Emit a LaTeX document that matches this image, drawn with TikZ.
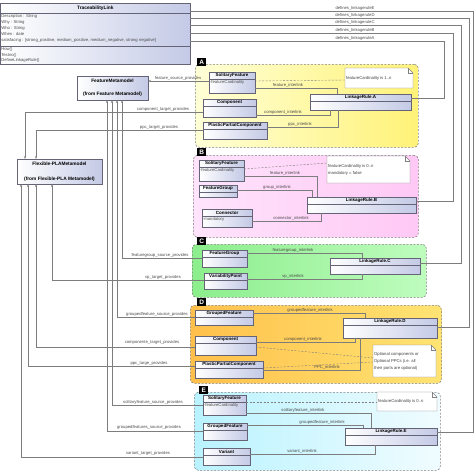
\documentclass[tikz,border=0pt]{standalone}
\usepackage{fontspec}
\setmainfont{Liberation Sans}
\usetikzlibrary{arrows.meta}

\definecolor{clsedge}{RGB}{100,100,118}
\definecolor{clsfill}{RGB}{196,202,230}
\definecolor{wirecol}{RGB}{125,125,125}

\tikzset{
  cls/.style={draw=clsedge, line width=0.5pt, left color=white, right color=clsfill, anchor=north west, inner sep=0pt, outer sep=0pt},
  clsrule/.style={draw=clsedge, line width=0.4pt},
  clstitle/.style={font=\fontsize{4.5}{5}\selectfont\bfseries, inner sep=0pt},
  clsattr/.style={font=\fontsize{4.2}{5}\selectfont, anchor=north west, inner sep=0.8pt, text=black!70},
  metabox/.style={cls, align=center, font=\fontsize{4.8}{13}\selectfont\bfseries},
  panelbox/.style={draw=gray, dash pattern=on 2pt off 1.5pt, rounded corners=4pt, line width=0.6pt, anchor=north west, inner sep=0pt},
  paneltag/.style={fill=black, text=white, font=\fontsize{6.5}{6}\selectfont\bfseries, anchor=north west, minimum width=9pt, minimum height=8pt, inner sep=0pt},
  notebox/.style={anchor=north west, inner sep=0pt, outer sep=0pt},
  noteedge/.style={draw=gray, line width=0.4pt},
  notetext/.style={font=\fontsize{4.2}{7}\selectfont, anchor=west, align=left, inner sep=1pt, text=black!75},
  wirestyle/.style={draw=wirecol, line width=0.4pt},
  prov/.style={wirestyle, -{Stealth[length=3pt,width=2.2pt]}},
  notelink/.style={draw=gray, dash pattern=on 2pt off 1.5pt, line width=0.4pt},
  lbl/.style={font=\fontsize{4.2}{5}\selectfont, anchor=south, inner sep=0.5pt, text=black!70},
}

% class box: name, x, y, width, height, title, attribute
\newcommand{\umlclass}[7]{%
  \node[cls, minimum width=#4pt, minimum height=#5pt] (#1) at (#2,#3) {};
  \draw[clsrule] ([yshift=-7.5pt]#1.north west) -- ([yshift=-7.5pt]#1.north east);
  \node[clstitle] (#1t) at ([yshift=-3.8pt]#1.north) {#6};
  \node[clsattr] (#1a) at ([yshift=-7.5pt]#1.north west) {#7};
}
% note with folded corner: name, x, y, width, height, text
\newcommand{\umlnote}[6]{%
  \node[notebox, minimum width=#4pt, minimum height=#5pt] (#1) at (#2,#3) {};
  \draw[noteedge, fill=white] (#1.north west) -- ([xshift=-5pt]#1.north east) -- ([yshift=-5pt]#1.north east) -- (#1.south east) -- (#1.south west) -- cycle;
  \draw[noteedge] ([xshift=-5pt]#1.north east) -- ([xshift=-5pt,yshift=-5pt]#1.north east) -- ([yshift=-5pt]#1.north east);
  \node[notetext] (#1t) at (#1.west) {#6};
}

\begin{document}
\begin{tikzpicture}[x=1pt, y=-1pt]
\useasboundingbox (0,0) rectangle (474,474);

% panels
\node[panelbox, minimum width=223pt, minimum height=83pt, left color={rgb,255:red,255;green,255;blue,215}, right color={rgb,255:red,255;green,242;blue,120}] (pA) at (195,64) {};
\node[panelbox, minimum width=225pt, minimum height=82pt, left color={rgb,255:red,255;green,228;blue,252}, right color={rgb,255:red,255;green,200;blue,245}] (pB) at (193,155) {};
\node[panelbox, minimum width=234pt, minimum height=53pt, left color={rgb,255:red,140;green,238;blue,140}, right color={rgb,255:red,190;green,252;blue,190}] (pC) at (192,244) {};
\node[panelbox, minimum width=251pt, minimum height=78pt, left color={rgb,255:red,255;green,192;blue,75}, right color={rgb,255:red,255;green,228;blue,115}] (pD) at (190,305) {};
\node[panelbox, minimum width=246pt, minimum height=78pt, left color={rgb,255:red,185;green,243;blue,255}, right color={rgb,255:red,240;green,252;blue,255}] (pE) at (194,392) {};
\node[paneltag] (tagA) at (197,58) {A};
\node[paneltag] (tagB) at (197,148) {B};
\node[paneltag] (tagC) at (197,237) {C};
\node[paneltag] (tagD) at (197,298) {D};
\node[paneltag] (tagE) at (199,386) {E};

% traceability link
\node[cls, minimum width=190pt, minimum height=61pt] (tl) at (0.3,3) {};
\draw[clsrule] ([yshift=-10pt]tl.north west) -- ([yshift=-10pt]tl.north east);
\draw[clsrule] ([yshift=-43pt]tl.north west) -- ([yshift=-43pt]tl.north east);
\node[clstitle, font=\fontsize{4.8}{5}\selectfont\bfseries] (tlt) at ([yshift=-5pt]tl.north) {TraceabilityLink};
\node[clsattr, align=left, font=\fontsize{4.2}{6}\selectfont] (tla) at ([yshift=-10.5pt]tl.north west) {Description : String\\Why : String\\Who : String\\When : date\\satisfacing : [strong\_positive, medium\_positive, medium\_negative, strong negative]};
\node[clsattr, align=left, font=\fontsize{4.2}{5.5}\selectfont] (tlm) at ([yshift=-43.5pt]tl.north west) {How()\\Testno()\\DefineLinkageRule()};

% metamodels
\node[metabox, minimum width=71pt, minimum height=24pt] (fm) at (77,76) {FeatureMetamodel\\(from Feature Metamodel)};
\node[metabox, minimum width=85pt, minimum height=25pt, font=\fontsize{4.8}{15}\selectfont\bfseries] (flex) at (17,159) {Flexible-PLAMetamodel\\(from Flexible-PLA Metamodel)};

% notes
\umlnote{ntA}{345}{68}{68}{20}{featureCardinality is 1..n}
\umlnote{ntB}{327}{156}{83}{27}{featureCardinality is 0..n\\mandatory = false}
\umlnote{ntD}{373}{345}{63}{32}{Optional components or\\Optional PPCs (i.e. all\\their ports are optional)}
\umlnote{ntE}{377}{392}{60}{19}{featureCardinality is 0..n}

% A
\umlclass{sfA}{209}{72}{46}{21}{SolitaryFeature}{-featureCardinality}
\umlclass{cmpA}{203}{99}{53}{18}{Component}{}
\umlclass{ppcA}{203}{122}{64}{17}{PlasticPartialComponent}{}
\umlclass{lrA}{310}{94}{101}{16}{LinkageRule.A}{}
% B
\umlclass{sfB}{199}{160}{45}{21}{SolitaryFeature}{-featureCardinality}
\umlclass{fgB}{199}{185}{38}{12}{FeatureGroup}{}
\umlclass{conB}{202}{209}{50}{18}{Connector}{-mandatory}
\umlclass{lrB}{307}{197}{109}{16}{LinkageRule.B}{}
% C
\umlclass{fgC}{202}{250}{45}{17}{FeatureGroup}{}
\umlclass{vpC}{204}{273}{43}{16}{VariabilityPoint}{}
\umlclass{lrC}{330}{258}{90}{16}{LinkageRule.C}{}
% D
\umlclass{gfD}{195}{310}{58}{15}{GroupedFeature}{}
\umlclass{cmpD}{195}{336}{61}{19}{Component}{}
\umlclass{ppcD}{195}{361}{68}{17}{PlasticPartialComponent}{}
\umlclass{lrD}{343}{318}{94}{20}{LinkageRule.D}{}
% E
\umlclass{sfE}{203}{395}{43}{20}{SolitaryFeature}{-featureCardinality}
\umlclass{gfE}{203}{423}{44}{17}{GroupedFeature}{}
\umlclass{varE}{203}{448}{47}{17}{Variant}{}
\umlclass{lrE}{345}{428}{92}{17}{LinkageRule.E}{}

% defines_linkagerule
\draw[wirestyle] (tl.east |- 0,11) -| (473,432) -- (lrE.east |- 0,432);
\draw[wirestyle] (tl.east |- 0,18) -| (469,327) -- (lrD.east |- 0,327);
\draw[wirestyle] (tl.east |- 0,25) -| (461,263) -- (lrC.east |- 0,263);
\draw[wirestyle] (tl.east |- 0,33) -| (453,201) -- (lrB.east |- 0,201);
\draw[wirestyle] (tl.east |- 0,41) -| (444,98) -- (lrA.east |- 0,98);
\node[lbl] (dE) at (355,11) {defines\_linkageruleE};
\node[lbl] (dD) at (355,18) {defines\_linkageruleD};
\node[lbl] (dC) at (355,25) {defines\_linkageruleC};
\node[lbl] (dB) at (355,33) {defines\_linkageruleB};
\node[lbl] (dA) at (355,41) {defines\_linkageruleA};

% provides
\draw[prov] (sfA.west |- 0,81) -- (fm.east |- 0,81);
\draw[prov] (cmpA.west |- 0,112) -| (flex.north -| 25,0);
\draw[prov] (ppcA.west |- 0,130) -| (flex.north -| 36,0);
\draw[prov] (fgC.west |- 0,258) -| (fm.south -| 122,0);
\draw[prov] (vpC.west |- 0,280) -| (flex.south -| 52,0);
\draw[prov] (gfD.west |- 0,317) -| (fm.south -| 117,0);
\draw[prov] (cmpD.west |- 0,347) -| (flex.south -| 36,0);
\draw[prov] (ppcD.west |- 0,366) -| (flex.south -| 28,0);
\draw[prov] (sfE.west |- 0,405) -| (fm.south -| 112,0);
\draw[prov] (gfE.west |- 0,431) -| (fm.south -| 107,0);
\draw[prov] (varE.west |- 0,457) -| (flex.south -| 21,0);
\node[lbl] (l1) at (178,81) {feature\_source\_provides};
\node[lbl] (l2) at (163,112) {component\_target\_provides};
\node[lbl] (l3) at (159,130) {ppc\_target\_provides};
\node[lbl] (l4) at (160,258) {featuregroup\_source\_provides};
\node[lbl] (l5) at (163,280) {vp\_target\_provides};
\node[lbl] (l6) at (157,317) {groupedfeature\_source\_provides};
\node[lbl] (l7) at (152,345) {componente\_target\_provides};
\node[lbl] (l8) at (149,366) {ppc\_targe\_provides};
\node[lbl] (l9) at (153,405) {solitaryfeature\_source\_provides};
\node[lbl] (l10) at (149,430) {groupedfeatures\_source\_provides};
\node[lbl] (l11) at (148,456) {variant\_target\_provides};

% interlinks
\draw[wirestyle] (sfA.east |- 0,88) -| (lrA.north -| 337,0);
\draw[wirestyle] (cmpA.east |- 0,115) -| (lrA.south -| 330,0);
\draw[wirestyle] (ppcA.east |- 0,127) -| (lrA.south -| 338,0);
\draw[wirestyle] (sfB.east |- 0,176) -| (lrB.north -| 317,0);
\draw[wirestyle] (fgB.east |- 0,190) -| (lrB.north -| 312,0);
\draw[wirestyle] (conB.east |- 0,221) -| (lrB.south -| 321,0);
\draw[wirestyle] (fgC.east |- 0,253) -| (lrC.north -| 362,0);
\draw[wirestyle] (vpC.east |- 0,279) -| (lrC.south -| 362,0);
\draw[wirestyle] (gfD.east |- 0,313) -| (lrD.north -| 365,0);
\draw[wirestyle] (cmpD.east |- 0,342) -| (lrD.south -| 355,0);
\draw[wirestyle] (ppcD.east |- 0,370) -| (lrD.south -| 360,0);
\draw[wirestyle] (sfE.east |- 0,413) -| (lrE.north -| 371,0);
\draw[wirestyle] (gfE.east |- 0,425) -| (lrE.north -| 363,0);
\draw[wirestyle] (varE.east |- 0,454) -| (lrE.south -| 375,0);
\node[lbl] (i1) at (288,88) {feature\_interlink};
\node[lbl] (i2) at (283,115) {component\_interlink};
\node[lbl] (i3) at (300,127) {ppc\_interlink};
\node[lbl] (i4) at (285,176) {feature\_interlink};
\node[lbl] (i5) at (277,190) {group\_interlink};
\node[lbl] (i6) at (291,221) {connector\_interlink};
\node[lbl] (i7) at (293,253) {featuregroup\_interlink};
\node[lbl] (i8) at (293,279) {vp\_interlink};
\node[lbl] (i9) at (310,313) {groupedfeature\_interlink};
\node[lbl] (i10) at (303,342) {component\_interlink};
\node[lbl] (i11) at (327,370) {PPC\_interlink};
\node[lbl] (i12) at (303,413) {solitaryfeature\_interlink};
\node[lbl] (i13) at (322,425) {groupedfeature\_interlink};
\node[lbl] (i14) at (302,454) {variant\_interlink};

% note links
\draw[notelink] (sfA.east |- 0,81) -- (ntA.west |- 0,80);
\draw[notelink] (sfB.east |- 0,169) -- (ntB.west |- 0,163);
\draw[notelink] (cmpD.east |- 0,347) -- (ntD.west |- 0,358);
\draw[notelink] (ppcD.east |- 0,368) -- (ntD.west |- 0,362);
\draw[notelink] (sfE.east |- 0,402) -- (ntE.west |- 0,402);

\end{tikzpicture}
\end{document}
